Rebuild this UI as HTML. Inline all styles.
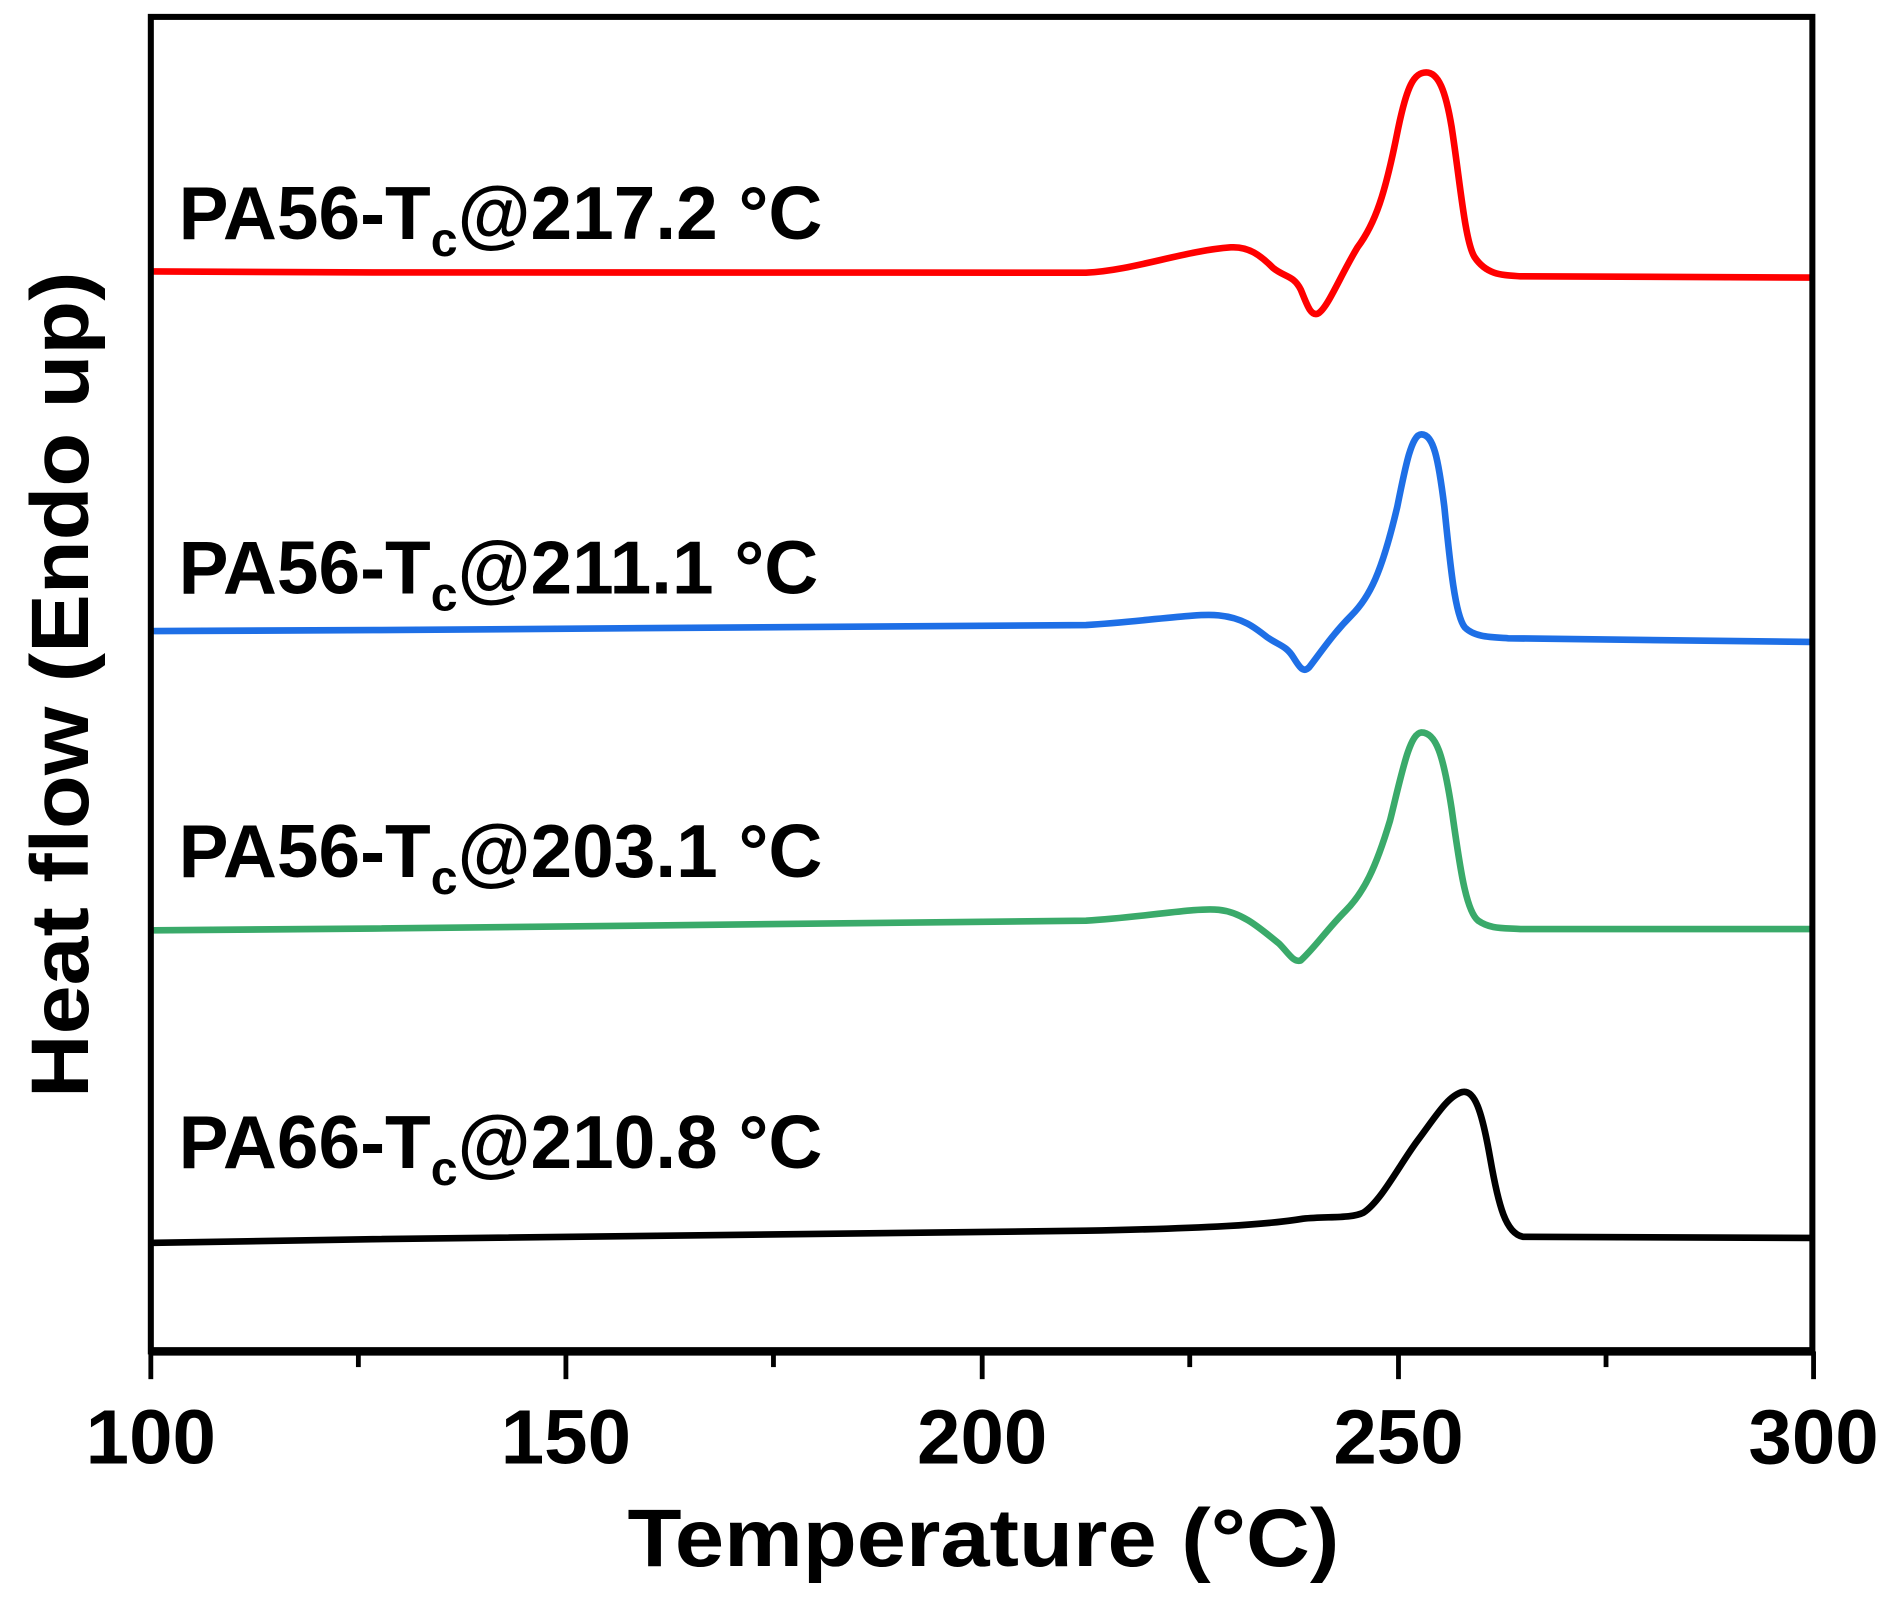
<!DOCTYPE html>
<html><head><style>html,body{margin:0;padding:0;background:#fff}svg{display:block}</style></head>
<body>
<svg width="1892" height="1606" viewBox="0 0 1568 1331" preserveAspectRatio="none" xmlns="http://www.w3.org/2000/svg" font-family="Liberation Sans, Arial, sans-serif" font-weight="bold">
<rect width="1568" height="1331" fill="#fff"/>
<g fill="none" stroke-linejoin="round" stroke-linecap="round" stroke-width="5.5">
<path stroke="#ff0000" d="M128,225 C400,226 700,228 900,226 C940,224 980,208 1020,205 C1035,204 1045,212 1055,222 C1065,230 1072,228 1078,240 C1083,252 1086,262 1092,260 C1100,256 1110,230 1125,205 C1140,185 1148,160 1158,110 C1166,70 1172,60 1182,60 C1192,60 1198,75 1203,105 C1210,150 1214,200 1222,213 C1232,228 1245,228 1260,229 L1500,230"/>
<path stroke="#1e6fe6" d="M128,523 C400,522 700,520 900,518 C950,515 990,508 1010,510 C1030,512 1040,520 1050,528 C1060,535 1066,535 1072,545 C1077,553 1080,558 1085,553 C1095,540 1105,525 1120,510 C1135,495 1145,475 1158,420 C1165,385 1170,360 1178,360 C1188,360 1192,380 1197,420 C1202,470 1206,510 1214,520 C1222,528 1235,528 1250,529 L1500,532"/>
<path stroke="#3aaa6a" d="M128,771 C400,769 700,766 900,763 C950,760 990,752 1010,754 C1030,756 1045,770 1060,782 C1068,790 1072,798 1078,796 C1090,785 1100,770 1115,755 C1130,740 1140,720 1152,680 C1162,640 1168,608 1178,607 C1190,607 1196,625 1203,670 C1210,720 1215,755 1225,763 C1235,770 1245,769 1260,770 L1500,770"/>
<path stroke="#000" d="M128,1030 C400,1025 700,1022 900,1020 C1000,1018 1050,1015 1080,1010 C1100,1008 1120,1010 1130,1005 C1145,995 1160,965 1175,945 C1190,925 1200,908 1212,905 C1222,903 1228,920 1235,960 C1242,1000 1248,1022 1262,1025 L1500,1026"/>
</g>
<rect x="125" y="14" width="1377" height="1106" fill="none" stroke="#000" stroke-width="5"/>
<line x1="125" y1="1120" x2="1502" y2="1120" stroke="#000" stroke-width="7"/>
<g stroke="#000" stroke-width="4">
<line x1="125" y1="1120" x2="125" y2="1143"/><line x1="469" y1="1120" x2="469" y2="1143"/><line x1="814" y1="1120" x2="814" y2="1143"/><line x1="1159" y1="1120" x2="1159" y2="1143"/><line x1="1503" y1="1120" x2="1503" y2="1143"/>
<line x1="297" y1="1120" x2="297" y2="1133"/><line x1="641" y1="1120" x2="641" y2="1133"/><line x1="986" y1="1120" x2="986" y2="1133"/><line x1="1331" y1="1120" x2="1331" y2="1133"/>
</g>
<g font-size="64" text-anchor="middle" fill="#000">
<text x="125" y="1213" textLength="108" lengthAdjust="spacingAndGlyphs">100</text>
<text x="469" y="1213" textLength="108" lengthAdjust="spacingAndGlyphs">150</text>
<text x="814" y="1213" textLength="108" lengthAdjust="spacingAndGlyphs">200</text>
<text x="1159" y="1213" textLength="108" lengthAdjust="spacingAndGlyphs">250</text>
<text x="1503" y="1213" textLength="108" lengthAdjust="spacingAndGlyphs">300</text>
</g>
<text x="520" y="1298" font-size="68" textLength="590" lengthAdjust="spacingAndGlyphs">Temperature (°C)</text>
<text transform="translate(73,910) rotate(-90)" font-size="68" textLength="685" lengthAdjust="spacingAndGlyphs">Heat flow (Endo up)</text>
<g font-size="62" fill="#000">
<text x="148" y="198">PA56-T<tspan font-size="40" dy="14">c</tspan><tspan dy="-14">@217.2 °C</tspan></text>
<text x="148" y="492">PA56-T<tspan font-size="40" dy="14">c</tspan><tspan dy="-14">@211.1 °C</tspan></text>
<text x="148" y="727">PA56-T<tspan font-size="40" dy="14">c</tspan><tspan dy="-14">@203.1 °C</tspan></text>
<text x="148" y="968">PA66-T<tspan font-size="40" dy="14">c</tspan><tspan dy="-14">@210.8 °C</tspan></text>
</g>
</svg>
</body></html>
